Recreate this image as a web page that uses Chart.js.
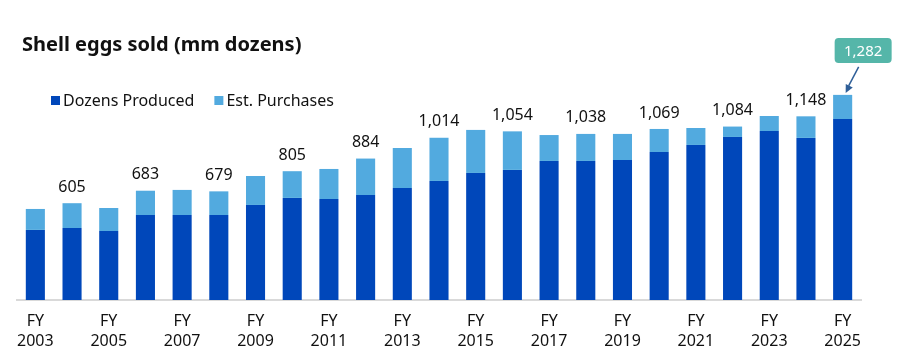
<!DOCTYPE html>
<html>
<head>
<meta charset="utf-8">
<script src="https://cdn.jsdelivr.net/npm/chart.js@4.4.1/dist/chart.umd.min.js"></script>
<style>
  html, body { margin: 0; padding: 0; background: #fff; }
  #wrap { width: 902px; height: 363px; position: relative; }
</style>
</head>
<body>
<div id="wrap"><canvas id="eggs-chart"></canvas></div>
<script>
const years = [2003, 2004, 2005, 2006, 2007, 2008, 2009, 2010, 2011, 2012, 2013, 2014,
               2015, 2016, 2017, 2018, 2019, 2020, 2021, 2022, 2023, 2024, 2025];
const dozensProduced = [438, 450, 431, 531, 531, 531, 594, 638, 631, 656, 700, 744,
                        794, 813, 869, 869, 875, 925, 969, 1019, 1056, 1013, 1131];
const estPurchases = [131, 155, 144, 152, 157, 148, 181, 167, 188, 228, 250, 270,
                      269, 241, 162, 169, 163, 144, 106, 65, 94, 135, 151];
const seriesNames = ["Dozens Produced", "Est. Purchases"];
const seriesColors = ["#0047ba", "#52aadf"];

const chartTitle = "Shell eggs sold (mm dozens)";
const FONT = "'Noto Sans', sans-serif";

function fmt(n) {
    return n.toLocaleString("en-US");
}

// title, legend, total labels and the 2025 callout
const overlayPlugin = {
    id: "overlay",
    afterDatasetsDraw(chart) {
        const ctx = chart.ctx;
        const top = chart.getDatasetMeta(1);
        ctx.save();

        // title
        ctx.fillStyle = "#111";
        ctx.font = "bold 20px " + FONT;
        ctx.textAlign = "left";
        ctx.textBaseline = "middle";
        ctx.fillText(chartTitle, 22, 45);

        // legend
        ctx.font = "16px " + FONT;
        let lx = 51;
        seriesNames.forEach(function (name, i) {
            ctx.fillStyle = seriesColors[i];
            ctx.fillRect(lx, 96, 9, 9);
            ctx.fillStyle = "#111";
            ctx.fillText(name, lx + 12, 101);
            lx += 12 + ctx.measureText(name).width + 20;
        });

        // totals on every other bar
        ctx.font = "16px " + FONT;
        ctx.textAlign = "center";
        ctx.fillStyle = "#111";
        years.forEach(function (yr, i) {
            if (yr % 2 === 0) {
                const bar = top.data[i];
                ctx.fillText(fmt(dozensProduced[i] + estPurchases[i]), bar.x, bar.y - 16);
            }
        });

        // callout for the last year
        const last = years.length - 1;
        const lb = top.data[last];
        const boxX = lb.x - 8, boxY = lb.y - 57, boxW = 57, boxH = 25;
        ctx.fillStyle = "#55b6a9";
        ctx.beginPath();
        ctx.roundRect(boxX, boxY, boxW, boxH, 4);
        ctx.fill();
        ctx.fillStyle = "#fff";
        ctx.font = "15px " + FONT;
        ctx.fillText(fmt(dozensProduced[last] + estPurchases[last]), boxX + boxW / 2, boxY + boxH / 2 + 1);

        // arrow
        const ax0 = lb.x + 16, ay0 = boxY + boxH + 4;
        const ax1 = lb.x + 3, ay1 = lb.y - 2;
        ctx.strokeStyle = "#2f5f98";
        ctx.fillStyle = "#2f5f98";
        ctx.lineWidth = 1.5;
        ctx.beginPath();
        ctx.moveTo(ax0, ay0);
        ctx.lineTo(ax1 + 3, ay1 - 7);
        ctx.stroke();
        const ang = Math.atan2(ay1 - ay0, ax1 - ax0);
        ctx.beginPath();
        ctx.moveTo(ax1, ay1);
        ctx.lineTo(ax1 - 9 * Math.cos(ang - 0.45), ay1 - 9 * Math.sin(ang - 0.45));
        ctx.lineTo(ax1 - 9 * Math.cos(ang + 0.45), ay1 - 9 * Math.sin(ang + 0.45));
        ctx.closePath();
        ctx.fill();

        ctx.restore();
    }
};

function createEggsChart() {
    const ctx = document.getElementById("eggs-chart").getContext("2d");
    new Chart(ctx, {
        type: "bar",
        data: {
            labels: years.map(String),
            datasets: [{
                label: seriesNames[0],
                data: dozensProduced,
                backgroundColor: seriesColors[0]
            }, {
                label: seriesNames[1],
                data: estPurchases,
                backgroundColor: seriesColors[1]
            }]
        },
        options: {
            responsive: true,
            maintainAspectRatio: false,
            animation: false,
            layout: { padding: { left: 17, right: 41, top: 44, bottom: 1 } },
            plugins: {
                legend: { display: false },
                title: { display: false },
                tooltip: { enabled: false }
            },
            datasets: {
                bar: { categoryPercentage: 1, barPercentage: 0.52 }
            },
            scales: {
                x: {
                    stacked: true,
                    grid: { display: false, drawTicks: false },
                    border: { display: true, color: "#d9d9d9", width: 2 },
                    ticks: {
                        autoSkip: false,
                        maxRotation: 0,
                        padding: 11,
                        color: "#111",
                        font: { family: FONT, size: 16, lineHeight: 1.25 },
                        callback: function (value, index) {
                            const yr = years[index];
                            return yr % 2 === 1 ? ["FY", String(yr)] : "";
                        }
                    }
                },
                y: {
                    stacked: true,
                    display: false,
                    min: 0,
                    max: 1600
                }
            }
        },
        plugins: [overlayPlugin]
    });
}

document.addEventListener("DOMContentLoaded", createEggsChart);
</script>
</body>
</html>
